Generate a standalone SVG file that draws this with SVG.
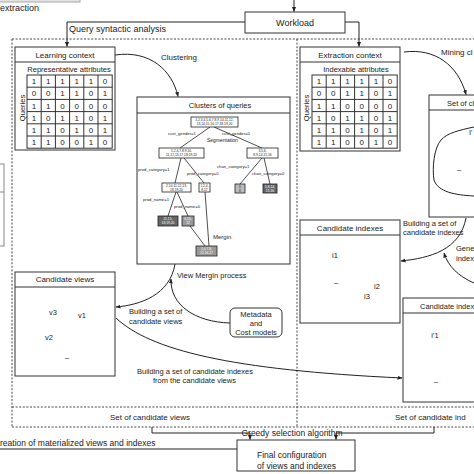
<svg xmlns="http://www.w3.org/2000/svg" width="474" height="474" viewBox="0 0 474 474">
<defs>
<marker id="ah" viewBox="0 0 10 10" refX="9" refY="5" markerWidth="5" markerHeight="5" orient="auto-start-reverse" markerUnits="userSpaceOnUse">
<path d="M0,1 L10,5 L0,9 z" fill="#222"/>
</marker>
<style>
text{font-family:"Liberation Sans",Arial,sans-serif;fill:#222}
.box{fill:#fff;stroke:#333;stroke-width:1}
.hl{stroke:#333;stroke-width:1}
.dash{fill:none;stroke:#444;stroke-width:1;stroke-dasharray:2,1.6}
.con{fill:none;stroke:#222;stroke-width:1}
.arr{fill:none;stroke:#222;stroke-width:1;marker-end:url(#ah)}
.h{font-size:8px;text-anchor:middle}
.l{font-size:7.5px}
.m{font-size:7.5px;text-anchor:middle}
.d{font-size:8px;text-anchor:middle}
.t{fill:#fff;stroke:#222;stroke-width:0.8}
.tg{fill:#bbb;stroke:#222;stroke-width:0.8}
.tm{fill:#999;stroke:#222;stroke-width:0.8}
.tk{fill:#666;stroke:#222;stroke-width:0.8}
.tn{font-size:3.3px;text-anchor:middle}
.tw{font-size:3.3px;text-anchor:middle;fill:#fff}
.tl{font-size:4.2px}
.tr{stroke:#222;stroke-width:0.8}
</style>
</defs>

<g id="partials">
<rect x="-5" y="-5" width="85" height="7" fill="#e2e2e2" stroke="#aaa"/>
<text x="0" y="11" style="font-size:9px">extraction</text>
<rect x="-10" y="164" width="14" height="82" fill="none" stroke="#888"/>
<line x1="0" y1="192" x2="4" y2="192" stroke="#888"/>
</g>

<g id="containers">
<path class="dash" d="M12,39 H474 M12,39 V427 M297,39 V427 M12,407 H474 M12,427 H474"/>
<text x="150" y="420" style="font-size:8px" text-anchor="middle">Set of candidate views</text>
<text x="395" y="420" style="font-size:8px">Set of candidate ind</text>
</g>

<g id="connectors">
<path class="arr" d="M294,0 V11.5"/>
<path class="arr" d="M245,22 H67 V46.5"/>
<path class="arr" d="M345,22 H359 V46.5"/>
<path class="arr" d="M115,55 C150,50 172,70 178,96.5"/>
<path class="arr" d="M404,52 C435,48 458,65 466,94.5"/>
<path class="arr" d="M175,264 C170,295 140,305 116,307"/>
<path class="arr" d="M230,323 C195,322 170,305 171,279"/>
<path class="arr" d="M116,318 C150,350 230,370 402,378"/>
<path class="arr" d="M466,218 C460,250 430,258 401,261"/>
<path class="arr" d="M474,283 C458,276 448,266 444,253"/>
<path class="arr" d="M152,427 V433 H250 V439.5"/>
<path class="arr" d="M434,427 V433 H336 V439.5"/>
<path class="con" d="M0,449 H237"/>
<text x="69" y="32" style="font-size:9px">Query syntactic analysis</text>
<text x="161" y="60" style="font-size:8px">Clustering</text>
<text x="441" y="55" style="font-size:8px">Mining cl</text>
<text x="177" y="278" class="l">View Mergin process</text>
<text x="129" y="314" class="l">Building a set of</text>
<text x="129" y="324" class="l">candidate views</text>
<text x="137" y="374" class="l">Building a set of candidate indexes</text>
<text x="153" y="383" class="l">from the candidate views</text>
<text x="403" y="226" class="l">Building a set of</text>
<text x="403" y="235" class="l">candidate indexes</text>
<text x="456" y="251" class="l">Gene</text>
<text x="456" y="261" class="l">index</text>
<text x="292" y="436" style="font-size:8.5px" text-anchor="middle">Greedy selection algorithm</text>
<text x="0" y="446" style="font-size:8.5px">reation of materialized views and indexes</text>
</g>

<g id="workload">
<rect class="box" x="245" y="12" width="100" height="21"/>
<text x="295" y="26" style="font-size:9px" text-anchor="middle">Workload</text>
</g>

<g id="learning-context">
<rect class="box" x="15" y="47" width="100" height="103"/>
<line class="hl" x1="15" y1="62" x2="115" y2="62"/>
<text x="65" y="58" class="h">Learning context</text>
<text x="69" y="72" class="m">Representative attributes</text>
<text transform="translate(25,108) rotate(-90)" class="m">Queries</text>
<rect x="27" y="75" width="85.2" height="73.2" fill="none" stroke="#333"/>
<path class="hl" fill="none" d="M41.2,75 V148.2 M55.4,75 V148.2 M69.6,75 V148.2 M83.8,75 V148.2 M98,75 V148.2 M27,87.2 H112.2 M27,99.4 H112.2 M27,111.6 H112.2 M27,123.8 H112.2 M27,136 H112.2"/>
<text class="d" x="34.1 48.3 62.5 76.7 90.9 105.1" y="84.1">111110</text>
<text class="d" x="34.1 48.3 62.5 76.7 90.9 105.1" y="96.3">001101</text>
<text class="d" x="34.1 48.3 62.5 76.7 90.9 105.1" y="108.5">110000</text>
<text class="d" x="34.1 48.3 62.5 76.7 90.9 105.1" y="120.7">101101</text>
<text class="d" x="34.1 48.3 62.5 76.7 90.9 105.1" y="132.9">110101</text>
<text class="d" x="34.1 48.3 62.5 76.7 90.9 105.1" y="145.1">110010</text>
</g>

<g id="extraction-context">
<rect class="box" x="300" y="47" width="100" height="104"/>
<line class="hl" x1="300" y1="62" x2="400" y2="62"/>
<text x="350" y="58" class="h">Extraction context</text>
<text x="356" y="72" class="m">Indexable attributes</text>
<text transform="translate(309,108) rotate(-90)" class="m">Queries</text>
<rect x="312" y="75" width="85.2" height="73.2" fill="none" stroke="#333"/>
<path class="hl" fill="none" d="M326.2,75 V148.2 M340.4,75 V148.2 M354.6,75 V148.2 M368.8,75 V148.2 M383,75 V148.2 M312,87.2 H397.2 M312,99.4 H397.2 M312,111.6 H397.2 M312,123.8 H397.2 M312,136 H397.2"/>
<text class="d" x="319.1 333.3 347.5 361.7 375.9 390.1" y="84.1">111110</text>
<text class="d" x="319.1 333.3 347.5 361.7 375.9 390.1" y="96.3">001101</text>
<text class="d" x="319.1 333.3 347.5 361.7 375.9 390.1" y="108.5">110000</text>
<text class="d" x="319.1 333.3 347.5 361.7 375.9 390.1" y="120.7">101101</text>
<text class="d" x="319.1 333.3 347.5 361.7 375.9 390.1" y="132.9">110101</text>
<text class="d" x="319.1 333.3 347.5 361.7 375.9 390.1" y="145.1">110010</text>
</g>

<g id="clusters-of-queries">
<rect class="box" x="137" y="97" width="153" height="167"/>
<line class="hl" x1="137" y1="113" x2="290" y2="113"/>
<text x="220" y="108" class="m">Clusters of queries</text>
<path class="tr" fill="none" d="M210,127 L180,148 M214,127 L262,148 M181,158 L175,183 M184,158 L204,183 M262,158 L240,184 M264,158 L270,184 M176,192 L168,216 M177,192 L188,216 M190,226 L205,246 M205,192 L209,246"/>
<rect class="t" x="191" y="117" width="47" height="10"/>
<text class="tn" x="214.5" y="121.3">1,2,3,4,5,6,7,8,9,10,11,12,</text>
<text class="tn" x="214.5" y="125.3">13,14,15,16,17,18,19,20</text>
<rect class="t" x="159" y="148" width="45" height="10"/>
<text class="tn" x="181.5" y="152.3">1,2,4,7,8,9,10,</text>
<text class="tn" x="181.5" y="156.3">11,12,13,17,18,19,20</text>
<rect class="t" x="247" y="148" width="31" height="10"/>
<text class="tn" x="262.5" y="152.3">3,5,6,</text>
<text class="tn" x="262.5" y="156.3">8,9,14,15,16</text>
<rect class="t" x="162" y="183" width="29" height="9"/>
<text class="tn" x="176.5" y="187">2,10,11,12,13,</text>
<text class="tn" x="176.5" y="190.8">18,19,20</text>
<rect class="t" x="199" y="183" width="11" height="9"/>
<text class="tn" x="204.5" y="187">1,2,4,</text>
<text class="tn" x="204.5" y="190.8">8,17</text>
<rect class="tg" x="235" y="184" width="10" height="9"/>
<text class="tn" x="240" y="188">3,</text>
<text class="tn" x="240" y="191.8">6</text>
<rect class="tk" x="263" y="184" width="14" height="9"/>
<text class="tw" x="270" y="188">5,8,14,</text>
<text class="tw" x="270" y="191.8">15,16</text>
<rect class="tk" x="158" y="216" width="20" height="10"/>
<text class="tw" x="168" y="220.3">11,15,</text>
<text class="tw" x="168" y="224.3">18,19,20</text>
<rect class="tm" x="182" y="216" width="12" height="10"/>
<text class="tw" x="188" y="220.3">6,16,</text>
<text class="tw" x="188" y="224.3">12</text>
<rect class="tm" x="196" y="246" width="21" height="10"/>
<text class="tw" x="206.5" y="250.3">1,6,7,8,</text>
<text class="tw" x="206.5" y="254.3">12,16,17</text>
<text class="tl" x="168" y="135">cust_gender=1</text>
<text class="tl" x="222" y="135">cust_gender=0</text>
<text x="207" y="142" style="font-size:5px">Segmentation</text>
<text class="tl" x="138" y="171">prod_category=1</text>
<text class="tl" x="187" y="175">prod_category=0</text>
<text class="tl" x="217" y="168">chan_category=1</text>
<text class="tl" x="252" y="175">chan_category=0</text>
<text class="tl" x="143" y="201">prod_name=1</text>
<text class="tl" x="174" y="208">prod_name=0</text>
<text x="213" y="239" style="font-size:6px">Mergin</text>
</g>

<g id="candidate-views">
<rect class="box" x="15" y="272" width="100" height="104"/>
<line class="hl" x1="15" y1="287" x2="115" y2="287"/>
<text x="65" y="282" class="h">Candidate views</text>
<text x="53" y="315" class="m">v3</text>
<text x="82" y="318" class="m">v1</text>
<text x="49" y="340" class="m">v2</text>
<text x="67" y="360" class="m">–</text>
</g>

<g id="metadata">
<rect class="box" x="230" y="308" width="52" height="29" rx="5"/>
<text x="256" y="317" class="m">Metadata</text>
<text x="256" y="326" class="m">and</text>
<text x="256" y="335" class="m">Cost models</text>
</g>

<g id="set-of-clusters">
<rect class="box" x="429" y="95" width="60" height="122"/>
<line class="hl" x1="429" y1="110" x2="474" y2="110"/>
<text x="447" y="106" class="l">Set of cl</text>
<path class="con" d="M474,127 C460,130 447,133 441,140 C434,148 432,168 434,180 C438,192 455,195 474,196"/>
<text x="469" y="135" class="l">I'</text>
<text x="459" y="172" class="m">–</text>
</g>

<g id="candidate-indexes">
<rect class="box" x="300" y="220" width="100" height="103"/>
<line class="hl" x1="300" y1="235" x2="400" y2="235"/>
<text x="350" y="231" class="h">Candidate indexes</text>
<text x="335" y="258" class="m">i1</text>
<text x="336" y="285" class="m">–</text>
<text x="377" y="289" class="m">i2</text>
<text x="367" y="299" class="m">i3</text>
</g>

<g id="candidate-indexes-2">
<rect class="box" x="403" y="298" width="80" height="104"/>
<line class="hl" x1="403" y1="313" x2="474" y2="313"/>
<text x="420" y="309" class="l">Candidate index</text>
<text x="435" y="338" class="m">i'1</text>
<text x="436" y="384" class="m">–</text>
</g>

<g id="final-configuration">
<rect class="box" x="237" y="440" width="118" height="31"/>
<text x="257" y="458" style="font-size:8.5px">Final configuration</text>
<text x="257" y="469" style="font-size:8.5px">of views and indexes</text>
</g>
</svg>
